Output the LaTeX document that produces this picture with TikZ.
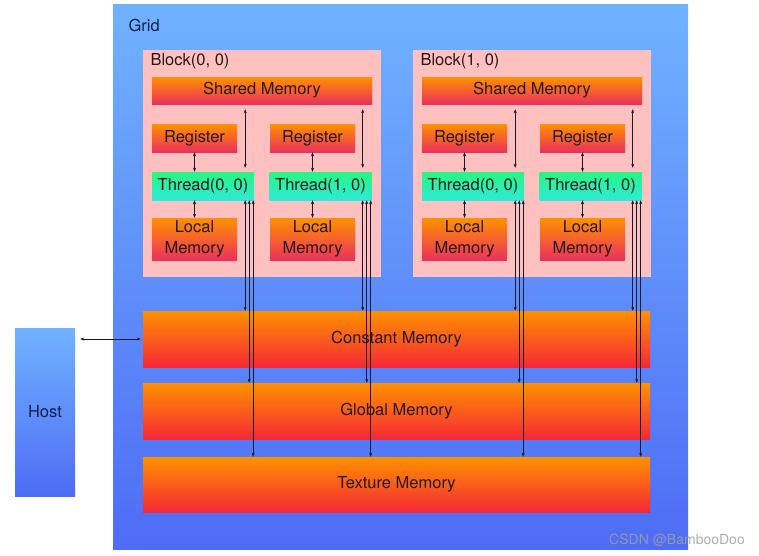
\documentclass[tikz,border=0pt]{standalone}
\usepackage{fontspec}
\setmainfont{TeX Gyre Heros}
\usetikzlibrary{arrows.meta}

\definecolor{gridtop}{RGB}{112,178,255}
\definecolor{gridbottom}{RGB}{78,108,245}
\definecolor{blockpink}{RGB}{255,192,192}
\definecolor{memtop}{RGB}{255,145,0}
\definecolor{smallbottom}{RGB}{236,48,92}
\definecolor{bigbottom}{RGB}{245,40,55}
\definecolor{threadtop}{RGB}{40,245,130}
\definecolor{threadbottom}{RGB}{45,235,215}
\definecolor{memtext}{RGB}{35,25,30}
\definecolor{navytext}{RGB}{20,30,70}
\definecolor{linkcol}{RGB}{20,25,50}

\tikzset{
  mem label/.style={font=\fontsize{16.5}{20.5}\selectfont,text=memtext},
  grid box/.style={top color=gridtop,bottom color=gridbottom,inner sep=0pt},
  block box/.style={fill=blockpink,inner sep=0pt,minimum width=238pt,minimum height=227pt},
  small mem/.style={top color=memtop,bottom color=smallbottom,inner sep=0pt,
    align=center,mem label},
  big mem/.style={top color=memtop,bottom color=bigbottom,inner sep=0pt,
    minimum width=507pt,minimum height=56pt,mem label},
  thread box/.style={top color=threadtop,bottom color=threadbottom,inner sep=0pt,
    minimum width=102pt,minimum height=28pt,mem label},
  mem link/.style={line width=0.6pt,draw=linkcol,
    {Stealth[length=4pt,width=3pt]}-{Stealth[length=4pt,width=3pt]}}
}

\begin{document}
\begin{tikzpicture}[x=1pt,y=-1pt]
  \useasboundingbox (0,0) rectangle (759,555);
  % grid and host
  \node[grid box,minimum width=575pt,minimum height=545pt] (grid) at (400.5,276.5) {};
  \node[mem label,text=navytext,anchor=west] (grid-title) at (125,25) {Grid};
  \node[grid box,minimum width=60pt,minimum height=168pt,mem label,text=navytext]
    (host) at (45,412) {Host};
  % blocks
  \foreach \b/\L in {0/143,1/413} {
    \node[block box] (block\b) at (\L+119,163.5) {};
    \node[mem label,anchor=west] (block\b-title) at (\L+4,61) {Block(\b, 0)};
    \node[small mem,minimum width=220pt,minimum height=27pt] (shared\b) at (\L+119,90.5) {Shared Memory};
    \foreach \t/\r/\h in {0/51.5/60,1/169.5/177.5} {
      \node[small mem,minimum width=85pt,minimum height=28pt] (reg\b\t) at (\L+\r,138) {Register};
      \node[thread box] (thread\b\t) at (\L+\h,186) {Thread(\t, 0)};
      \node[small mem,minimum width=85pt,minimum height=42pt] (local\b\t) at (\L+\r,239) {Local\\Memory};
    }
  }
  % device memories
  \node[big mem] (constant) at (396.5,339) {Constant Memory};
  \node[big mem] (global) at (396.5,411) {Global Memory};
  \node[big mem,minimum height=55pt] (texture) at (396.5,484.5) {Texture Memory};
  % links
  \draw[mem link,shorten <=5pt,shorten >=2pt] (host.east |- constant.west) -- (constant.west);
  \foreach \b in {0,1}
    \foreach \t in {0,1} {
      \draw[mem link] (reg\b\t.south) -- (reg\b\t.south |- thread\b\t.north);
      \draw[mem link] (local\b\t.north |- thread\b\t.south) -- (local\b\t.north);
      \draw[mem link,shorten <=5pt,shorten >=4pt]
        ([xshift=-9pt]thread\b\t.north east |- shared\b.south) -- ([xshift=-9pt]thread\b\t.north east);
      \draw[mem link] ([xshift=-9pt]thread\b\t.south east) -- ([xshift=-9pt]thread\b\t.south east |- constant.north);
      \draw[mem link] ([xshift=-5pt]thread\b\t.south east) -- ([xshift=-5pt]thread\b\t.south east |- global.north);
      \draw[mem link] ([xshift=-1pt]thread\b\t.south east) -- ([xshift=-1pt]thread\b\t.south east |- texture.north);
    }
  % watermark
  \node[font=\fontsize{14}{16}\selectfont,text=gray!75,text opacity=0.85] (mark) at (677,540) {CSDN @BambooDoo};
\end{tikzpicture}
\end{document}
